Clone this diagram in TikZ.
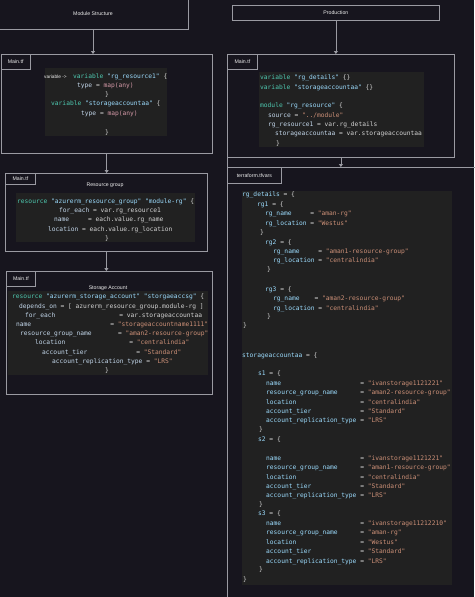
\documentclass[tikz,border=0pt]{standalone}
\usepackage{fontspec}
\setmainfont{Liberation Sans}
\newfontfamily\codefont{DejaVu Sans Mono}
\usetikzlibrary{arrows.meta}
\definecolor{bgc}{HTML}{17151E}
\definecolor{edge}{HTML}{9A9AA2}
\definecolor{codebg}{HTML}{212121}
\definecolor{wtxt}{HTML}{EDEDED}
\definecolor{kwc}{HTML}{4EC9B0}
\definecolor{lbc}{HTML}{9CDCFE}
\definecolor{stc}{HTML}{CE9178}
\definecolor{plc}{HTML}{D4D4D4}
\definecolor{atc}{HTML}{C4D8EC}
\definecolor{fnc}{HTML}{D69AA8}
\newdimen\cwid \cwid=3.7625pt
\newcommand\gp[1]{\hspace*{#1\cwid}}
\newcommand\ckw[1]{\textcolor{kwc}{#1}}
\newcommand\cbl[1]{\textcolor{lbc}{#1}}
\newcommand\cst[1]{\textcolor{stc}{#1}}
\newcommand\cat[1]{\textcolor{atc}{#1}}
\newcommand\cfn[1]{\textcolor{fnc}{#1}}
\newcommand\cl[4]{\node[codeline] (#1) at (#2,#3) {#4};}
\tikzset{
  frame/.style={draw=edge, line width=0.8pt, inner sep=0pt, anchor=north west},
  tab/.style={draw=edge, line width=0.8pt, inner sep=0pt, anchor=north west},
  lab/.style={text=wtxt, font=\fontsize{5.2}{6}\selectfont, inner sep=0pt},
  codeline/.style={anchor=base west, inner sep=0pt, text=plc, font=\codefont\fontsize{6.25}{7}\selectfont\frenchspacing},
  conn/.style={draw=edge, line width=0.8pt, -{Triangle[width=4pt,length=3pt,fill=wtxt]}}
}
\begin{document}
\begin{tikzpicture}[x=1pt,y=-1pt]
\useasboundingbox (0,0) rectangle (474,597);
\fill[bgc] (0,0) rectangle (474,597);
% code backgrounds
\fill[codebg] (45,68) rectangle (167,136);
\fill[codebg] (16,193) rectangle (195,242);
\fill[codebg] (8,291) rectangle (208,375);
\fill[codebg] (259,72) rectangle (424,147);
\fill[codebg] (242,191) rectangle (452,585);
% frames
\node[frame, minimum width=193pt, minimum height=34pt] (ms) at (-5,-5) {};
\node[lab] (mst) at (93,14) {Module Structure};
\node[frame, minimum width=211.5pt, minimum height=99pt] (m1) at (0.5,54) {};
\node[tab, minimum width=29.5pt, minimum height=15pt] (m1tab) at (0.5,54) {};
\node[lab] (m1l) at (m1tab.center) {Main.tf};
\node[frame, minimum width=202pt, minimum height=78pt] (m2) at (5,173) {};
\node[tab, minimum width=30pt, minimum height=11pt] (m2tab) at (5,173) {};
\node[lab] (m2l) at (m2tab.center) {Main.tf};
\node[lab] (m2t) at (105,185) {Resource group};
\node[frame, minimum width=206pt, minimum height=123pt] (m3) at (6,271) {};
\node[tab, minimum width=29pt, minimum height=15pt] (m3tab) at (6,271) {};
\node[lab] (m3l) at (m3tab.center) {Main.tf};
\node[lab] (m3t) at (108,288) {Storage Account};
\node[frame, minimum width=207pt, minimum height=15pt] (prod) at (232,5) {};
\node[lab] (prodt) at (prod.center) {Production};
\node[frame, minimum width=227pt, minimum height=103pt] (m4) at (227,54) {};
\node[tab, minimum width=30pt, minimum height=15pt] (m4tab) at (227,54) {};
\node[lab] (m4l) at (m4tab.center) {Main.tf};
\node[frame, minimum width=260pt, minimum height=440pt] (tf) at (227,167) {};
\node[tab, minimum width=54pt, minimum height=16pt] (tftab) at (227,167) {};
\node[lab] (tfl) at (tftab.center) {terraform.tfvars};
% connectors
\draw[conn] (ms.south -| mst.center) -- (mst.center |- m1.north);
\draw[conn] (m1.south) -- (m1.south |- m2.north);
\draw[conn] (m2.south) -- (m2.south |- m3.north);
\draw[conn] (prod.south) -- (prod.south |- m4.north);
\draw[conn] (m4.south) -- (m4.south |- tf.north);
\draw[edge, line width=0.8pt] (m4.south west) -- (tf.north west);
% box 1 code
\node[lab, anchor=base west, font=\fontsize{4.8}{6}\selectfont] (a0) at (44,78) {variable ->};
\cl{a1}{73}{78}{\ckw{variable} \cbl{"rg\_resource1"} \{}
\cl{a2}{77}{87}{\cat{type} = \cfn{map(any)}}
\cl{a3}{105}{96}{\}}
\cl{a4}{51}{105}{\ckw{variable} \cbl{"storageaccountaa"} \{}
\cl{a5}{81}{115}{\cat{type} = \cfn{map(any)}}
\cl{a6}{105}{134}{\}}
% box 2 code
\cl{b1}{17}{203}{\ckw{resource} \cbl{"azurerm\_resource\_group"} \cbl{"module-rg"} \{}
\cl{b2}{59}{212}{\cat{for\_each} = var.rg\_resource1}
\cl{b3}{54}{221}{\cat{name}\gp{5}= each.value.rg\_name}
\cl{b4}{48}{231}{\cat{location} = each.value.rg\_location}
\cl{b5}{105}{240}{\}}
% box 3 code
\cl{c1}{12}{298}{\ckw{resource} \cbl{"azurerm\_storage\_account"} \cbl{"storgaeaccsg"} \{}
\cl{c2}{19}{308}{\cat{depends\_on} = [ azurerm\_resource\_group.module-rg ]}
\cl{c3}{25}{317}{\cat{for\_each}\gp{17}= var.storageaccountaa}
\cl{c4}{16}{326}{\cat{name}\gp{21}= \cst{"storageaccountname1111"}}
\cl{c5}{20}{335}{\cat{resource\_group\_name}\gp{7}= \cst{"aman2-resource-group"}}
\cl{c6}{35}{344}{\cat{location}\gp{17}= \cst{"centralindia"}}
\cl{c7}{42}{354}{\cat{account\_tier}\gp{13}= \cst{"Standard"}}
\cl{c8}{52}{363}{\cat{account\_replication\_type} = \cst{"LRS"}}
\cl{c9}{105}{372}{\}}
% right main.tf code
\cl{d1}{260}{79}{\ckw{variable} \cbl{"rg\_details"} \{\}}
\cl{d2}{260}{89}{\ckw{variable} \cbl{"storageaccountaa"} \{\}}
\cl{d3}{260}{107}{\ckw{module} \cbl{"rg\_resource"} \{}
\cl{d4}{268}{117}{\cat{source} = \cst{"../module"}}
\cl{d5}{268}{126}{\cat{rg\_resource1} = var.rg\_details}
\cl{d6}{275}{135}{\cat{storageaccountaa} = var.storageaccountaa}
\cl{d7}{276}{145}{\}}
% tfvars code
\cl{e1}{242}{196}{\cbl{rg\_details} = \{}
\cl{e2}{257}{206}{\cbl{rg1} = \{}
\cl{e3}{265}{215}{\cbl{rg\_name}\gp{5}= \cst{"aman-rg"}}
\cl{e4}{265}{225}{\cbl{rg\_location} = \cst{"Westus"}}
\cl{e5}{260}{234}{\}}
\cl{e6}{265}{244}{\cbl{rg2} = \{}
\cl{e7}{273}{253}{\cbl{rg\_name}\gp{5}= \cst{"aman1-resource-group"}}
\cl{e8}{273}{262}{\cbl{rg\_location} = \cst{"centralindia"}}
\cl{e9}{267}{271}{\}}
\cl{e10}{265}{291}{\cbl{rg3} = \{}
\cl{e11}{273}{300}{\cbl{rg\_name}\gp{4}= \cst{"aman2-resource-group"}}
\cl{e12}{273}{310}{\cbl{rg\_location} = \cst{"centralindia"}}
\cl{e13}{267}{318}{\}}
\cl{e14}{243}{327}{\}}
\cl{f1}{242}{357}{\cbl{storageaccountaa} = \{}
\cl{f2}{258}{375}{\cbl{s1} = \{}
\cl{f3}{266}{385}{\cbl{name}\gp{21}= \cst{"ivanstorage1121221"}}
\cl{f4}{266}{394}{\cbl{resource\_group\_name}\gp{6}= \cst{"aman2-resource-group"}}
\cl{f5}{266}{404}{\cbl{location}\gp{17}= \cst{"centralindia"}}
\cl{f6}{266}{413}{\cbl{account\_tier}\gp{13}= \cst{"Standard"}}
\cl{f7}{266}{422}{\cbl{account\_replication\_type} = \cst{"LRS"}}
\cl{f8}{259}{431}{\}}
\cl{f9}{258}{441}{\cbl{s2} = \{}
\cl{f10}{266}{460}{\cbl{name}\gp{21}= \cst{"ivanstorage1121221"}}
\cl{f11}{266}{469}{\cbl{resource\_group\_name}\gp{6}= \cst{"aman1-resource-group"}}
\cl{f12}{266}{479}{\cbl{location}\gp{17}= \cst{"centralindia"}}
\cl{f13}{266}{488}{\cbl{account\_tier}\gp{13}= \cst{"Standard"}}
\cl{f14}{266}{497}{\cbl{account\_replication\_type} = \cst{"LRS"}}
\cl{f15}{259}{506}{\}}
\cl{f16}{258}{515}{\cbl{s3} = \{}
\cl{f17}{266}{525}{\cbl{name}\gp{21}= \cst{"ivanstorage11212210"}}
\cl{f18}{266}{534}{\cbl{resource\_group\_name}\gp{6}= \cst{"aman-rg"}}
\cl{f19}{266}{544}{\cbl{location}\gp{17}= \cst{"Westus"}}
\cl{f20}{266}{553}{\cbl{account\_tier}\gp{13}= \cst{"Standard"}}
\cl{f21}{266}{563}{\cbl{account\_replication\_type} = \cst{"LRS"}}
\cl{f22}{259}{571}{\}}
\cl{f23}{243}{581}{\}}
\end{tikzpicture}
\end{document}
